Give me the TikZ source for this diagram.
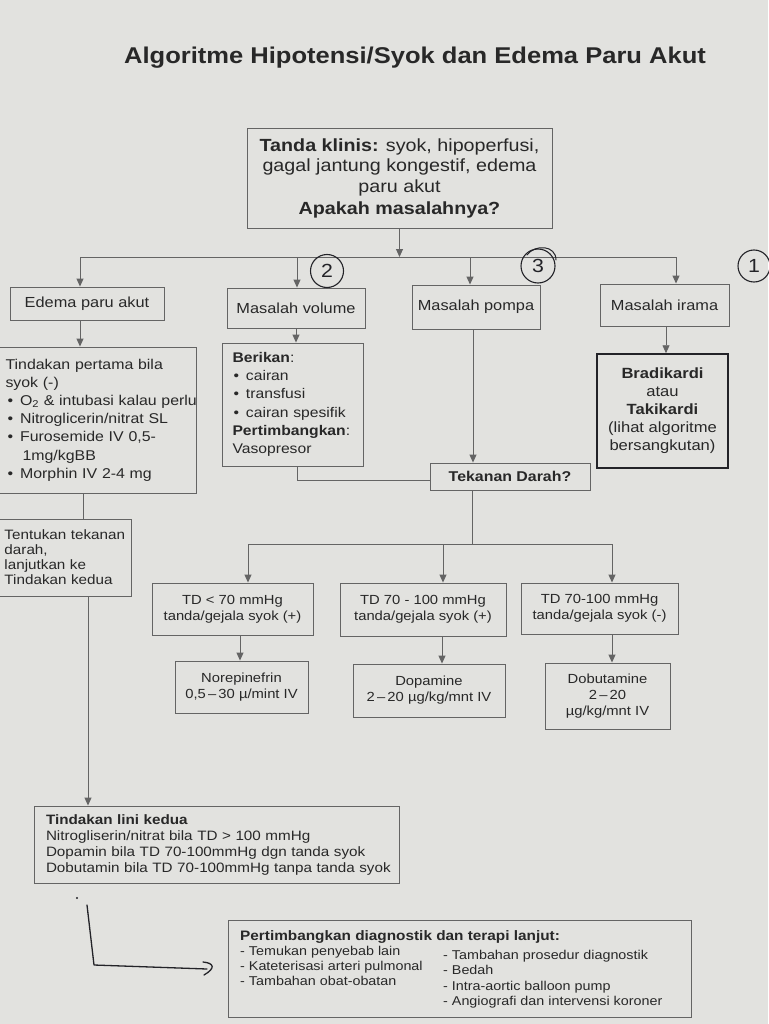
\documentclass[tikz,border=0pt]{standalone}
\usepackage{fontspec}
\setmainfont[FakeStretch=1.12]{Liberation Sans}
\usetikzlibrary{arrows.meta,calc}
\definecolor{bg}{RGB}{226,226,223}
\definecolor{ink}{RGB}{40,40,40}
\definecolor{frame}{RGB}{100,100,100}
\definecolor{pen}{RGB}{35,35,40}
\newcommand{\fs}[2]{\fontsize{#1}{#2}\selectfont}
\newcommand{\lftln}[1]{\makebox[0pt][l]{#1}}
\newcommand{\bul}{\hspace*{4pt}\textbullet\hspace{7pt}}
\begin{document}
\begin{tikzpicture}[x=1pt,y=-1pt,
  every node/.style={text=ink},
  box/.style={draw=frame, line width=0.9pt, inner sep=0pt, align=center},
  lbox/.style={box, align=left},
  arr/.style={draw=frame, line width=0.9pt, -{Triangle[width=7pt,length=8pt]}},
  ln/.style={draw=frame, line width=0.9pt},
  hand/.style={draw=pen, line width=1.3pt, line cap=round, line join=round},
  ring/.style={draw=pen, circle, line width=1.1pt, inner sep=0pt, text=pen, font=\fs{19}{19}}]
\fill[bg] (0,0) rectangle (768,1024);
\useasboundingbox (0,0) rectangle (768,1024);

% title
\node[font=\bfseries\fs{22.8}{26}] (title) at (415,58) {Algoritme Hipotensi/Syok dan Edema Paru Akut};

% top box
\node[box, minimum width=305pt, minimum height=100pt, font=\fs{17.6}{20.5}] (top) at (399.5,178)
  {\textbf{Tanda klinis:} syok, hipoperfusi,\\ gagal jantung kongestif, edema\\ paru akut\\[1.5pt] \textbf{Apakah masalahnya?}};

% level 2
\node[box, minimum width=154pt, minimum height=33pt, font=\fs{14.6}{18}] (edema) at (87,303.5) {Edema paru akut};
\node[box, minimum width=138pt, minimum height=40pt, font=\fs{14.6}{18}] (vol) at (296,308) {Masalah volume};
\node[box, minimum width=128pt, minimum height=44pt, font=\fs{14.6}{18}] (pompa) at (476,307) {Masalah pompa};
\node[box, minimum width=129pt, minimum height=42pt, font=\fs{14.6}{18}] (irama) at (664.5,305) {Masalah irama};

% level 3
\node[lbox, minimum width=197pt, minimum height=146pt, text width=188pt, font=\fs{14.2}{18.2}] (tp) at (97.5,420)
  {\lftln{\hspace*{2pt}Tindakan pertama bila}\\
   \lftln{\hspace*{2pt}syok (-)}\\
   \lftln{\bul O\textsubscript{2} \& intubasi kalau perlu}\\
   \lftln{\bul Nitroglicerin/nitrat SL}\\
   \lftln{\bul Furosemide IV 0,5-}\\
   \lftln{\hspace*{19pt}1mg/kgBB}\\
   \lftln{\bul Morphin IV 2-4 mg}};
\node[lbox, minimum width=141pt, minimum height=123pt, text width=120pt, font=\fs{14}{18.3}] (berikan) at (292.5,404.5)
  {\lftln{\textbf{Berikan}:}\\
   \lftln{\hspace*{1pt}\textbullet\hspace{7pt}cairan}\\
   \lftln{\hspace*{1pt}\textbullet\hspace{7pt}transfusi}\\
   \lftln{\hspace*{1pt}\textbullet\hspace{7pt}cairan spesifik}\\
   \lftln{\textbf{Pertimbangkan}:}\\
   \lftln{Vasopresor}};
\node[box, draw=pen, line width=1.5pt, minimum width=131pt, minimum height=114pt, font=\fs{14.8}{18}] (brady) at (662.5,411)
  {\textbf{Bradikardi}\\ atau\\ \textbf{Takikardi}\\ (lihat algoritme\\ bersangkutan)};
\node[box, minimum width=160pt, minimum height=27pt, font=\bfseries\fs{14.2}{17}] (tekanan) at (510,476.5) {Tekanan Darah?};

\node[lbox, minimum width=132pt, minimum height=77pt, text width=121pt, font=\fs{13.6}{15}] (tentukan) at (65,557.5)
  {\lftln{Tentukan tekanan}\\ \lftln{darah,}\\ \lftln{lanjutkan ke}\\ \lftln{Tindakan kedua}};

% blood pressure branches
\node[box, minimum width=161pt, minimum height=52pt, font=\fs{13.2}{16}] (td1) at (232.5,609) {TD < 70 mmHg\\ tanda/gejala syok (+)};
\node[box, minimum width=166pt, minimum height=53pt, font=\fs{13.2}{16}] (td2) at (423,609.5) {TD 70 - 100 mmHg\\ tanda/gejala syok (+)};
\node[box, minimum width=157pt, minimum height=51pt, font=\fs{13.2}{16}] (td3) at (599.5,608.5) {TD 70-100 mmHg\\ tanda/gejala syok (-)};

\node[box, minimum width=133pt, minimum height=52pt, font=\fs{13.2}{15.5}] (nor) at (241.5,687) {Norepinefrin\\ 0,5\,–\,30 µ/mint IV};
\node[box, minimum width=152pt, minimum height=53pt, font=\fs{13.2}{16}] (dop) at (429,690.5) {Dopamine\\ 2\,–\,20 µg/kg/mnt IV};
\node[box, minimum width=125pt, minimum height=66pt, font=\fs{13.2}{16}] (dob) at (607.5,696) {Dobutamine\\ 2\,–\,20\\ µg/kg/mnt IV};

% second line
\node[lbox, minimum width=365pt, minimum height=77pt, text width=341pt, font=\fs{13.6}{16}] (lini) at (216.5,844.5)
  {\lftln{\textbf{Tindakan lini kedua}}\\
   \lftln{Nitrogliserin/nitrat bila TD > 100 mmHg}\\
   \lftln{Dopamin bila TD 70-100mmHg dgn tanda syok}\\
   \lftln{Dobutamin bila TD 70-100mmHg tanpa tanda syok}};

% further
\node[box, minimum width=463pt, minimum height=97pt] (pert) at (459.5,968.5) {};
\node[anchor=west, inner sep=0pt, font=\bfseries\fs{13.7}{16}] (perth) at (240,937) {Pertimbangkan diagnostik dan terapi lanjut:};
\node[anchor=north west, inner sep=0pt, align=left, font=\fs{12.8}{15.2}] (pertl) at (240,946)
  {- Temukan penyebab lain\\ - Kateterisasi arteri pulmonal\\ - Tambahan obat-obatan};
\node[anchor=north west, inner sep=0pt, align=left, font=\fs{12.8}{15.5}] (pertr) at (443,950)
  {- Tambahan prosedur diagnostik\\ - Bedah\\ - Intra-aortic balloon pump\\ - Angiografi dan intervensi koroner};

% connectors
\coordinate (busL) at (80,257);
\coordinate (bV) at (297,257);
\coordinate (bP) at (470,257);
\coordinate (busR) at (676,257);
\draw[ln] (busL) -- (busR);
\draw[arr] (top.south) -- (top.south |- busL);
\draw[arr] (busL) -- (busL |- edema.north);
\draw[arr] (bV) -- (bV |- vol.north);
\draw[arr] (bP) -- (bP |- pompa.north);
\draw[arr] (busR) -- (busR |- irama.north);

\coordinate (xe) at (80,0);
\draw[arr] (xe |- edema.south) -- (xe |- tp.north);
\coordinate (xt) at (83,0);
\draw[ln] (xt |- tp.south) -- (xt |- tentukan.north);
\coordinate (xl) at (88,0);
\draw[arr] (xl |- tentukan.south) -- (xl |- lini.north);

\draw[arr] (vol.south) -- (vol.south |- berikan.north);
\coordinate (xb) at (297,480);
\draw[ln] (xb |- berikan.south) -- (xb) -- (xb -| tekanan.west);
\coordinate (xp) at (473,0);
\draw[arr] (xp |- pompa.south) -- (xp |- tekanan.north);
\coordinate (xi) at (666,0);
\draw[arr] (xi |- irama.south) -- (xi |- brady.north);

\coordinate (tb) at (472,544);
\coordinate (tL) at (248,544);
\coordinate (tM) at (443,544);
\coordinate (tR) at (612,544);
\draw[ln] (tb |- tekanan.south) -- (tb);
\draw[ln] (tL) -- (tR);
\draw[arr] (tL) -- (tL |- td1.north);
\draw[arr] (tM) -- (tM |- td2.north);
\draw[arr] (tR) -- (tR |- td3.north);
\coordinate (x1) at (240,0);
\coordinate (x2) at (442,0);
\draw[arr] (x1 |- td1.south) -- (x1 |- nor.north);
\draw[arr] (x2 |- td2.south) -- (x2 |- dop.north);
\draw[arr] (tR |- td3.south) -- (tR |- dob.north);

% handwritten marks
\node[ring, minimum size=33pt] (c2) at (327,271) {2};
\node[ring, minimum size=34pt] (c3) at (538,266) {3};
\draw[hand, line width=1pt] (527,255) .. controls (535,244) and (556,245) .. (556,260);
\node[ring, minimum size=32pt] (c1) at (754,266) {1};

\fill[pen] (77,898) circle (1.1pt);
\coordinate (h1) at (87,905);
\coordinate (h2) at (94,965);
\coordinate (h3) at (207,969);
\draw[hand] (h1) -- (h2) -- (h3);
\draw[hand] (203,962) .. controls (214,963) and (216,968) .. (204,975);
\end{tikzpicture}
\end{document}
